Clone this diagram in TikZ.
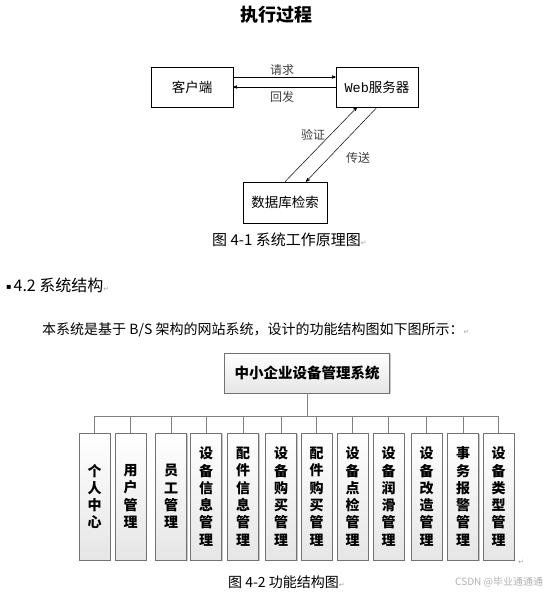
\documentclass[tikz,border=0pt]{standalone}
\usepackage{fontspec}
\setmainfont{Noto Sans CJK SC}
\setmonofont{Liberation Mono}
\newfontfamily\symfont{DejaVu Sans}
\usepackage{tikz}
\usetikzlibrary{arrows}
\usetikzlibrary{shadows}
\tikzset{
	main node/.style={rectangle,draw,line width=0.6pt,inner sep=0pt,
		minimum width=82pt,minimum height=40pt,font=\fontsize{13.5}{16}\selectfont},
	edge text/.style={font=\fontsize{12}{14}\selectfont,text=black!75},
	text line/.style={anchor=west,inner sep=0pt,font=\fontsize{14}{16}\selectfont},
	top box/.style={rectangle,draw=black!55,line width=0.7pt,inner sep=0pt,
		top color=white,bottom color=black!10,
		drop shadow={shadow xshift=1.3pt,shadow yshift=-1.3pt,fill=black!45}},
	sub box/.style={top box,align=center,minimum width=31pt,minimum height=127pt,
		font=\bfseries\fontsize{14}{17.3}\selectfont},
	tree line/.style={draw=black!50,line width=0.8pt}
}
\newcommand{\retmark}{{\symfont\color{black!35}\fontsize{7}{7}\selectfont ↵}}

\begin{document}
\begin{tikzpicture}[->,>=stealth',x=1pt,y=-1pt]
      \path[-,use as bounding box,fill=white] (0,0) rectangle (547,594);

      \node[font=\bfseries\fontsize{18}{20}\selectfont] (t) at (276,15) {执行过程};

      \node[main node] (1) at (192,87) {客户端};
      \node[main node] (2) at (377,87) {{\ttfamily Web}服务器};
      \node[main node,minimum width=84pt,minimum height=41pt] (3) at (285,202.5) {数据库检索};

      \node[edge text] (e1) at (282,70) {请求};
      \node[edge text] (e2) at (282,97) {回发};
      \node[edge text] (e3) at (313,135) {验证};
      \node[edge text] (e4) at (358,158) {传送};

      \path[line width=0.5pt]
        ([yshift=10pt]1.east) edge ([yshift=10pt]2.west)
        (2) edge (1)
        (3.north) edge ([xshift=-20pt]2.south)
        (2.south) edge ([xshift=21pt]3.north);

      \node[text line,font=\fontsize{15}{16}\selectfont] (c1) at (212,240) {图 4-1 系统工作原理图\retmark};

      \node[text line,font=\fontsize{16}{18}\selectfont] (h) at (6,285) {{\symfont\fontsize{8}{8}\selectfont\raisebox{0.35ex}{▪}}\hspace{2pt}4.2 系统结构\retmark};
      \node[text line] (p) at (42,330) {本系统是基于 B/S 架构的网站系统，设计的功能结构图如下图所示：\retmark};

      \node[top box,minimum width=165pt,minimum height=40pt,font=\bfseries\fontsize{14.5}{16}\selectfont] (s) at (307,373) {中小企业设备管理系统};
      \coordinate (bus) at (307,416);

      \node[sub box] (s1) at (94.5,496.5) {个\\人\\中\\心};
      \node[sub box] (s2) at (130.5,496.5) {用\\户\\管\\理};
      \node[sub box] (s3) at (171,496.5) {员\\工\\管\\理};
      \node[sub box] (s4) at (206,496.5) {设\\备\\信\\息\\管\\理};
      \node[sub box] (s5) at (243,496.5) {配\\件\\信\\息\\管\\理};
      \node[sub box] (s6) at (281,496.5) {设\\备\\购\\买\\管\\理};
      \node[sub box] (s7) at (316.5,496.5) {配\\件\\购\\买\\管\\理};
      \node[sub box] (s8) at (352.5,496.5) {设\\备\\点\\检\\管\\理};
      \node[sub box] (s9) at (388.5,496.5) {设\\备\\润\\滑\\管\\理};
      \node[sub box] (s10) at (426.5,496.5) {设\\备\\改\\造\\管\\理};
      \node[sub box] (s11) at (463,496.5) {事\\务\\报\\警\\管\\理};
      \node[sub box] (s12) at (498.5,496.5) {设\\备\\类\\型\\管\\理};

      \draw[-,tree line] (s.south) -- (bus)
        (bus) -| (s1.north) (bus) -| (s2.north) (bus) -| (s3.north)
        (bus) -| (s4.north) (bus) -| (s5.north) (bus) -| (s6.north)
        (bus) -| (s7.north) (bus) -| (s8.north) (bus) -| (s9.north)
        (bus) -| (s10.north) (bus) -| (s11.north) (bus) -| (s12.north);

      \node[inner sep=0pt] (r) at (521,562) {\retmark};
      \node[text line] (c2) at (228,582) {图 4-2 功能结构图\retmark};
      \node[text line,text=black!30,font=\fontsize{10}{12}\selectfont] (w) at (455,582) {CSDN @毕业通通通};
    \end{tikzpicture}
\end{document}
